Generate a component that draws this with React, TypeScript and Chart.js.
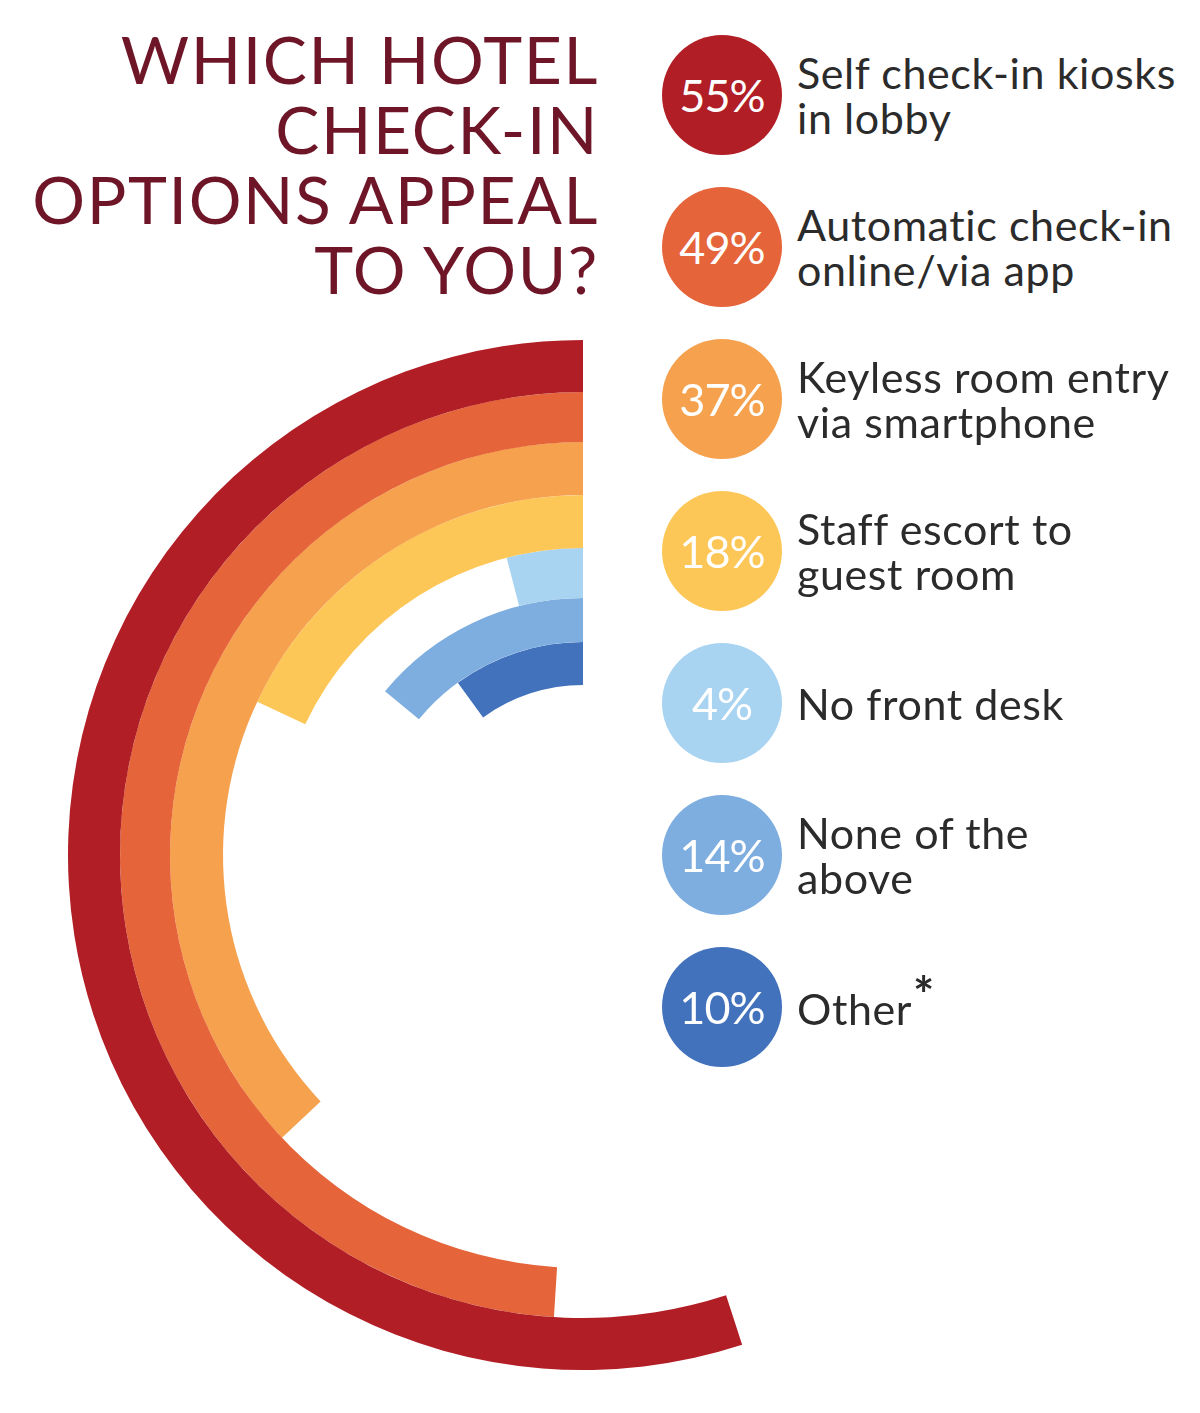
import React, { useEffect, useRef } from "react";
import { Chart, registerables } from "chart.js";

Chart.register(...registerables);

const values = [55, 49, 37, 18, 4, 14, 10];
const labels = [
  ["Self check-in kiosks", "in lobby"],
  ["Automatic check-in", "online/via app"],
  ["Keyless room entry", "via smartphone"],
  ["Staff escort to", "guest room"],
  ["No front desk"],
  ["None of the", "above"],
  ["Other"],
];
const colors = ["#b11e25", "#e5643a", "#f5a14e", "#fdc758", "#a8d3f1", "#7eaee0", "#4272bc"];
const ringWeights = [52, 50, 53, 53, 50, 44, 43];
const titleLines = ["WHICH HOTEL", "CHECK-IN", "OPTIONS APPEAL", "TO YOU?"];

const FONT = "Lato, 'Open Sans', sans-serif";

const App: React.FC = () => {
  const canvasRef = useRef<HTMLCanvasElement | null>(null);
  const chartRef = useRef<Chart<"doughnut", number[], string> | null>(null);

  useEffect(() => {
    if (!canvasRef.current) return;
    const ctx = canvasRef.current.getContext("2d");
    if (!ctx) return;
    if (chartRef.current) chartRef.current.destroy();

    // transparent remainder first, so the coloured arc runs counter-clockwise from 12 o'clock
    chartRef.current = new Chart(ctx, {
      type: "doughnut",
      data: {
        labels: ["rest", "value"],
        datasets: values.map((v, i) => ({
          data: [100 - v, v],
          backgroundColor: ["rgba(0,0,0,0)", colors[i]],
          borderWidth: 0,
          hoverOffset: 0,
          offset: 0,
          weight: ringWeights[i],
        })),
      },
      options: {
        animation: false,
        responsive: true,
        maintainAspectRatio: false,
        cutout: "33%",
        rotation: 0,
        layout: { padding: 0 },
        events: [],
        plugins: {
          legend: { display: false },
          tooltip: { enabled: false },
        },
      },
    });

    return () => {
      if (chartRef.current) {
        chartRef.current.destroy();
        chartRef.current = null;
      }
    };
  }, []);

  // page coords minus the 8px body margin
  const off = 8;

  return (
    <div
      style={{
        position: "relative",
        width: 1184,
        height: 1397,
        fontFamily: FONT,
        fontVariantLigatures: "none",
      }}
    >
      <div
        style={{
          position: "absolute",
          left: 68 - off,
          top: 340 - off,
          width: 1030,
          height: 1030,
        }}
      >
        <canvas ref={canvasRef}></canvas>
      </div>

      <div
        style={{
          position: "absolute",
          right: 1184 - (599 - off),
          top: 24 - off,
          textAlign: "right",
          color: "#6e1628",
          fontSize: 66,
          lineHeight: "70px",
          fontWeight: 400,
          letterSpacing: 1.6,
          whiteSpace: "nowrap",
        }}
      >
        {titleLines.map((t) => (
          <div key={t}>{t}</div>
        ))}
      </div>

      {values.map((v, i) => (
        <div
          key={i}
          style={{
            position: "absolute",
            left: 662 - off,
            top: 95 + i * 152 - 60 - off,
            height: 120,
            display: "flex",
            alignItems: "center",
          }}
        >
          <div
            style={{
              width: 120,
              height: 120,
              borderRadius: "50%",
              background: colors[i],
              color: "#fff",
              display: "flex",
              alignItems: "center",
              justifyContent: "center",
              fontSize: 45,
              fontWeight: 400,
              letterSpacing: -1,
              flexShrink: 0,
            }}
          >
            {v}%
          </div>
          <div
            style={{
              marginLeft: 15,
              color: "#2b2b2b",
              fontSize: 43,
              lineHeight: "45px",
              letterSpacing: 0.6,
              whiteSpace: "nowrap",
            }}
          >
            {labels[i].map((l, j) => (
              <div key={j}>
                {l}
                {i === 6 && (
                  <span
                    style={{
                      fontSize: 50,
                      fontWeight: 700,
                      position: "relative",
                      top: -12,
                      marginLeft: 1,
                    }}
                  >
                    *
                  </span>
                )}
              </div>
            ))}
          </div>
        </div>
      ))}
    </div>
  );
};

export default App;
